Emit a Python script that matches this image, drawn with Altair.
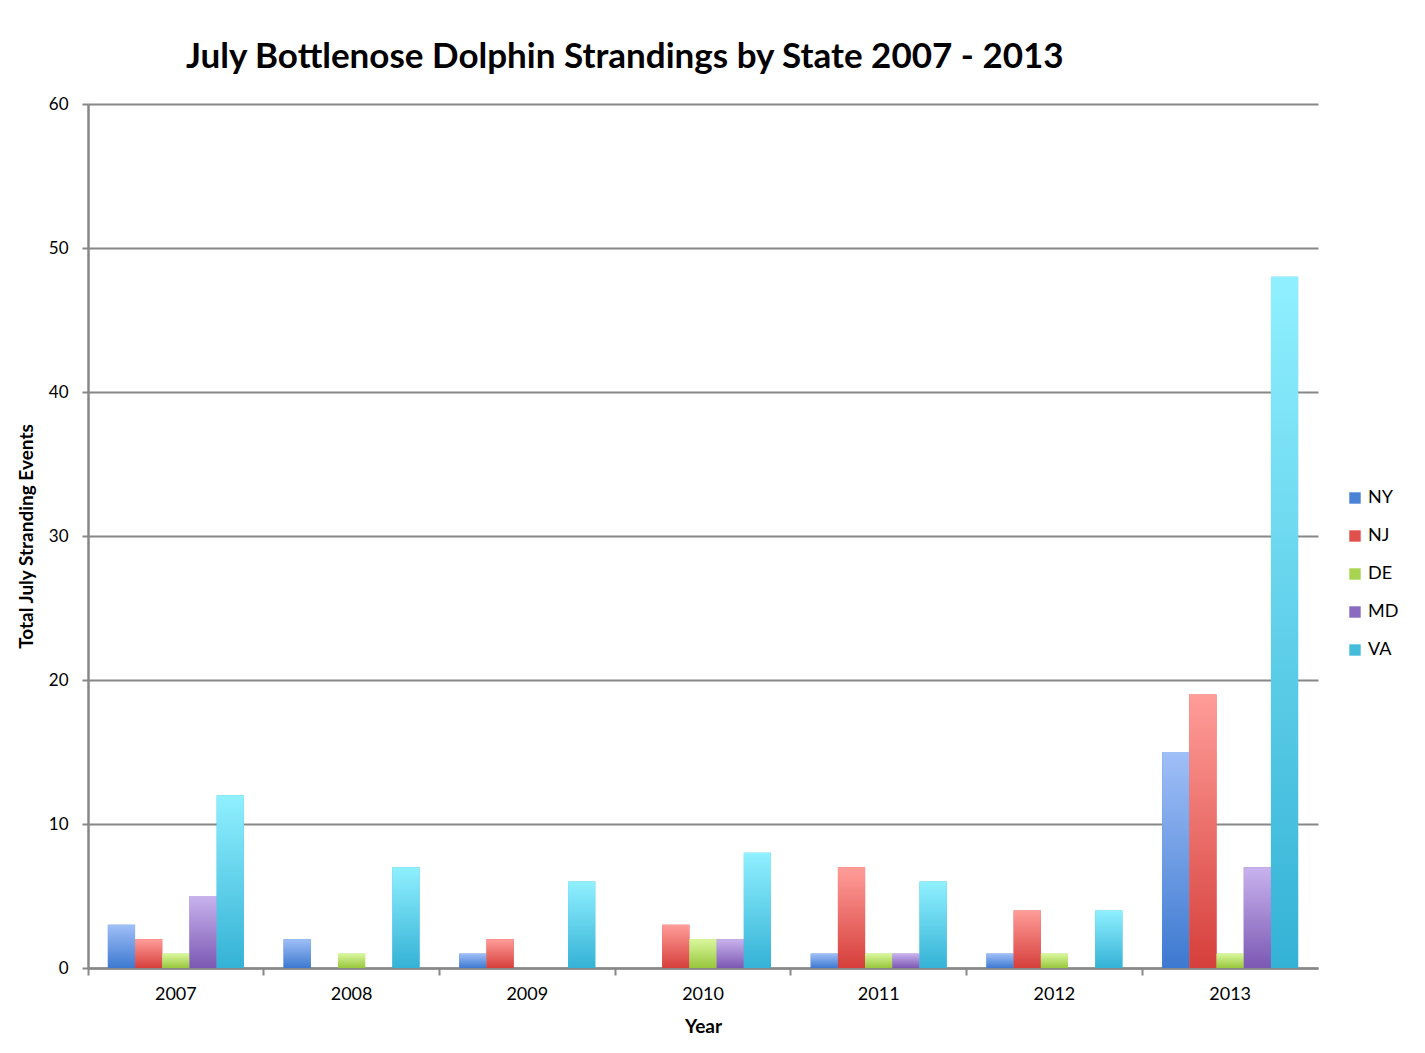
import altair as alt
import pandas as pd

years = ["2007", "2008", "2009", "2010", "2011", "2012", "2013"]
states = ["NY", "NJ", "DE", "MD", "VA"]
ny = [3, 2, 1, 0, 1, 1, 15]
nj = [2, 0, 2, 3, 7, 4, 19]
de = [1, 1, 0, 2, 1, 1, 1]
md = [5, 0, 0, 2, 1, 0, 7]
va = [12, 7, 6, 8, 6, 4, 48]

series = {"NY": ny, "NJ": nj, "DE": de, "MD": md, "VA": va}
rows = []
for s in states:
    for y, v in zip(years, series[s]):
        rows.append({"Year": y, "State": s, "Value": v})
df = pd.DataFrame(rows)

solid = ["#4a82d6", "#e0504c", "#a8d452", "#8a6bc0", "#44bddc"]
tops = {"NY": "#a0bff7", "NJ": "#ff9d99", "DE": "#daf89e", "MD": "#c9b3ee", "VA": "#90f0ff"}
bottoms = {"NY": "#3d79d0", "NJ": "#d63f3b", "DE": "#98c63c", "MD": "#7b58b3", "VA": "#34b2d6"}

FONT = "Lato"
GRAY = "#878787"

base = alt.Chart(df).encode(
    x=alt.X(
        "Year:N",
        sort=years,
        scale=alt.Scale(paddingInner=0, paddingOuter=0),
        axis=alt.Axis(
            title="Year",
            labelAngle=0,
            bandPosition=0,
            labelFontSize=18,
            labelFont=FONT,
            labelColor="#000000",
            labelPadding=10,
            titleFont=FONT,
            titleFontSize=19,
            titleFontWeight="bold",
            titleColor="#000000",
            titlePadding=14,
            domainColor=GRAY,
            domainWidth=2.5,
            tickColor=GRAY,
            tickWidth=2,
            tickSize=7,
            grid=False,
        ),
    ),
    xOffset=alt.XOffset(
        "State:N",
        scale=alt.Scale(domain=states, paddingInner=0, paddingOuter=0.73),
    ),
    y=alt.Y(
        "Value:Q",
        scale=alt.Scale(domain=[0, 60], nice=False),
        axis=alt.Axis(
            title="Total July Stranding Events",
            values=[0, 10, 20, 30, 40, 50, 60],
            labelFontSize=17,
            labelFont=FONT,
            labelColor="#000000",
            labelPadding=14,
            titleFont=FONT,
            titleFontSize=19,
            titleFontWeight="bold",
            titleColor="#000000",
            titlePadding=12,
            domainColor=GRAY,
            domainWidth=2.5,
            tickColor=GRAY,
            tickWidth=2,
            tickSize=6,
            gridColor=GRAY,
            gridWidth=2,
        ),
    ),
)

legend_layer = base.mark_bar().encode(
    color=alt.Color(
        "State:N",
        scale=alt.Scale(domain=states, range=solid),
        legend=alt.Legend(
            title=None,
            orient="none",
            legendX=1258,
            legendY=385,
            symbolType="square",
            symbolSize=130,
            symbolStrokeWidth=0,
            labelFontSize=18,
            labelFont=FONT,
            labelColor="#000000",
            rowPadding=20,
            labelOffset=4,
        ),
    )
)

layers = [legend_layer]
for s in states:
    grad = alt.LinearGradient(
        gradient="linear",
        stops=[
            alt.GradientStop(color=tops[s], offset=0),
            alt.GradientStop(color=bottoms[s], offset=1),
        ],
        x1=0, x2=0, y1=0, y2=1,
    )
    layers.append(
        base.transform_filter(alt.datum.State == s).mark_bar(color=grad)
    )

chart = (
    alt.layer(*layers)
    .properties(
        width=1230,
        height=864,
        autosize=alt.AutoSizeParams(type="none"),
        padding={"left": 80, "top": 96, "right": 99, "bottom": 77},
        title=alt.TitleParams(
            "July Bottlenose Dolphin Strandings by State 2007 - 2013",
            anchor="start",
            frame="group",
            dx=98,
            offset=20,
            fontSize=35,
            font=FONT,
            fontWeight="bold",
            color="#000000",
        ),
    )
    .configure_view(stroke=None)
)

chart.save("out.html", embed_options={"renderer": "svg", "actions": False})
